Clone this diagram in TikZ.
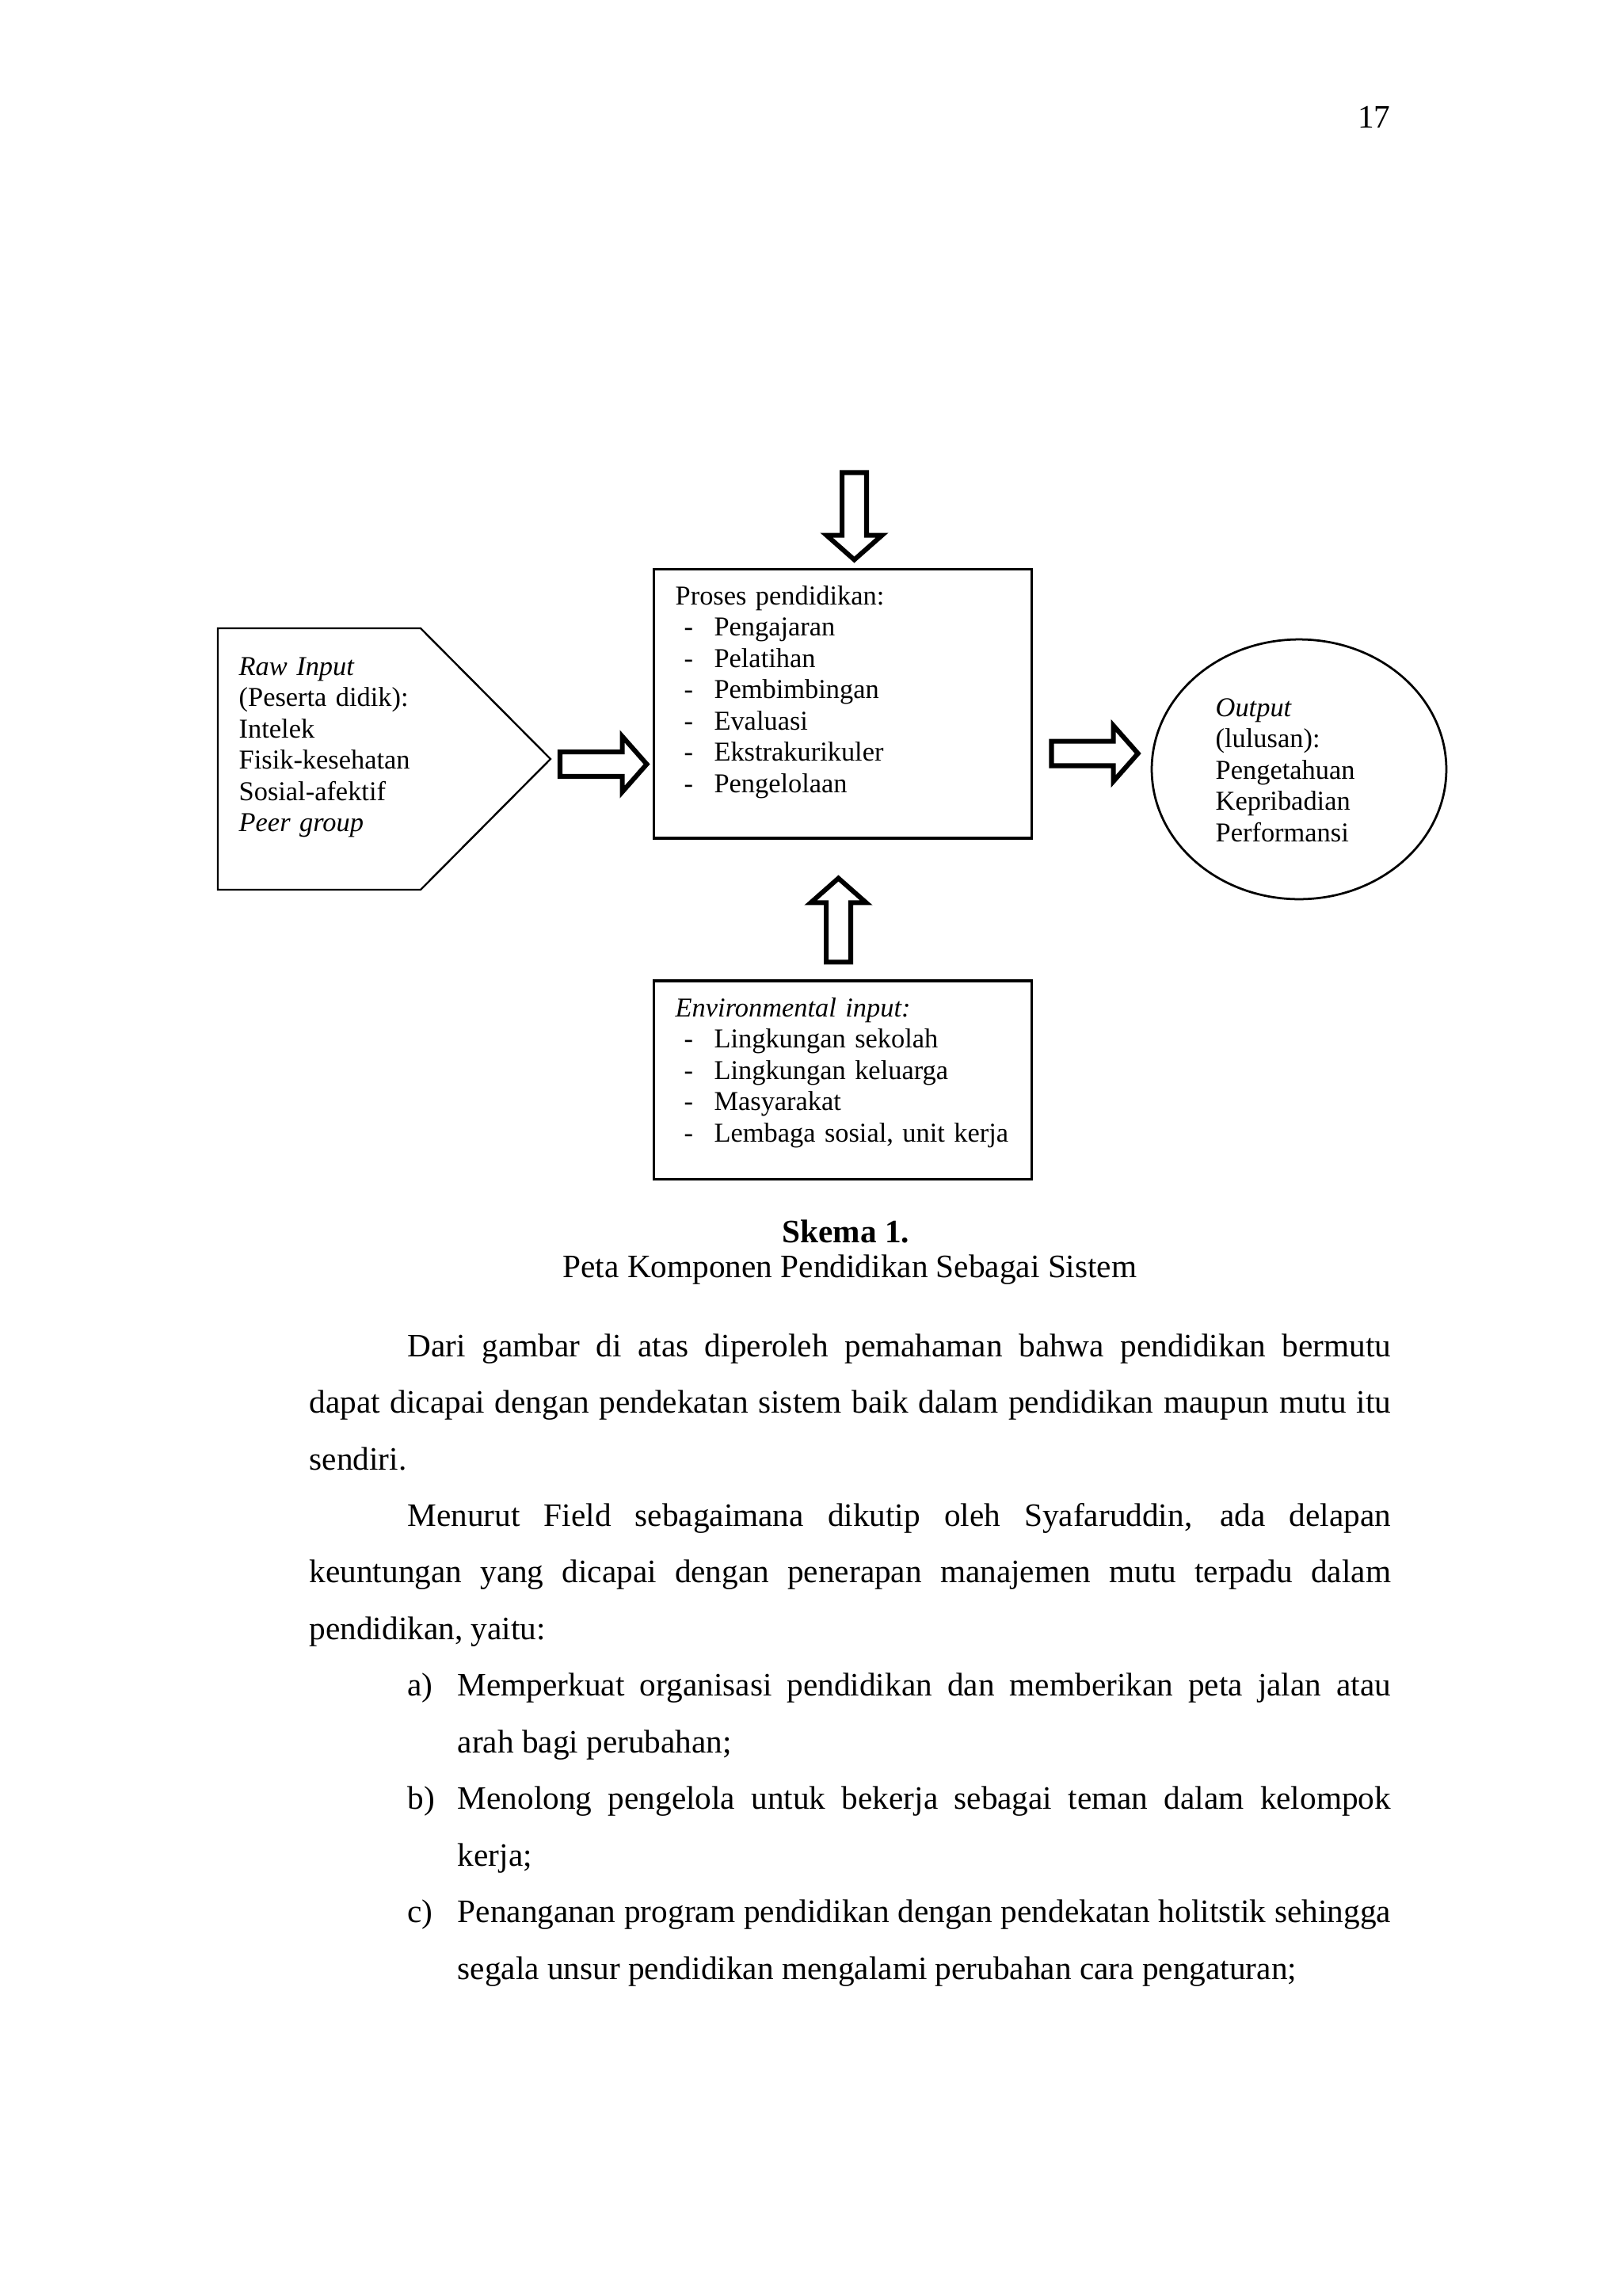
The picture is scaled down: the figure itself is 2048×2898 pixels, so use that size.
\documentclass[tikz,border=0pt]{standalone}
\usepackage{fontspec}
\setmainfont{Liberation Serif}
\usetikzlibrary{calc,shapes.geometric}
\tikzset{
  kotak/.style={draw, line width=0.9pt, minimum width=138.9pt, inner sep=0pt},
  teksdiagram/.style={font=\fontsize{10}{11.5}\selectfont, align=left, anchor=base west, inner sep=0pt, text width=130pt},
  panah/.style={draw, line width=1.75pt, fill=white},
  teksbadan/.style={font=\fontsize{12}{20.78}\selectfont, inner sep=0pt}
}
\newcommand\butir[1]{\hspace*{3.2pt}\makebox[11pt][l]{-}#1}
\newcommand\panahblok[2]{%
  \coordinate (hb) at ($(#2)!9pt!(#1)$);
  \draw[panah] ($(#1)!4.5pt!90:(#2)$) -- ($(hb)!4.5pt!90:(#2)$) -- ($(hb)!10.2pt!90:(#2)$) -- (#2)
    -- ($(hb)!10.2pt!-90:(#2)$) -- ($(hb)!4.5pt!-90:(#2)$) -- ($(#1)!4.5pt!-90:(#2)$) -- cycle;}
\newcommand\poin[1]{\hspace*{36pt}\makebox[18.4pt][l]{#1}}
\begin{document}
\begin{tikzpicture}[x=0.29067pt, y=-0.29067pt]
  \fill[white] (0,0) rectangle (2048,2898);
  \useasboundingbox (0,0) rectangle (2048,2898);
  \node[teksbadan, anchor=base east] (halaman) at (1756,161) {17};
  \draw[line width=0.7pt] (275,793) -- (531,793) -- (695,958) -- (531,1123) -- (275,1123) -- cycle;
  \coordinate (rawujung) at (695,958);
  \node[teksdiagram] (raw) at (301,852) {\textit{Raw Input}\\(Peserta didik):\\Intelek\\Fisik-kesehatan\\Sosial-afektif\\\textit{Peer group}};
  \node[kotak, minimum height=98.8pt] (proses) at (1064,888) {};
  \node[teksdiagram] (prosesteks) at (852,763) {Proses pendidikan:\\\butir{Pengajaran}\\\butir{Pelatihan}\\\butir{Pembimbingan}\\\butir{Evaluasi}\\\butir{Ekstrakurikuler}\\\butir{Pengelolaan}};
  \node[kotak, minimum height=72.7pt] (env) at (1064,1363) {};
  \node[teksdiagram] (envteks) at (852,1283) {\textit{Environmental input:}\\\butir{Lingkungan sekolah}\\\butir{Lingkungan keluarga}\\\butir{Masyarakat}\\\butir{Lembaga sosial, unit kerja}};
  \node[draw, ellipse, line width=0.8pt, minimum width=108.1pt, minimum height=95.3pt, inner sep=0pt] (keluaran) at (1640,971) {};
  \node[teksdiagram, text width=90pt] (keluaranteks) at (1534,904) {\textit{Output}\\(lulusan):\\Pengetahuan\\Kepribadian\\Performansi};
  \coordinate (p1a) at ($(rawujung)+(12,6.5)$);
  \coordinate (p1b) at ($(proses.west |- p1a)+(-7,0)$);
  \coordinate (p2a) at ($(proses.east)+(23,63)$);
  \coordinate (p2b) at ($(keluaran.west |- p2a)+(-16,0)$);
  \coordinate (p3a) at ($(proses.north)+(14.5,-120)$);
  \coordinate (p3b) at ($(proses.north)+(14.5,-10)$);
  \coordinate (p4a) at ($(env.north)+(-5.5,-22)$);
  \coordinate (p4b) at ($(proses.south)+(-5.5,49)$);
  \panahblok{p1a}{p1b}
  \panahblok{p2a}{p2b}
  \panahblok{p3a}{p3b}
  \panahblok{p4a}{p4b}
  \node[teksbadan, anchor=base, font=\fontsize{12}{14}\selectfont\bfseries] (judul) at (1068,1568) {Skema 1.};
  \node[teksbadan, anchor=base] (subjudul) at (1073,1612) {Peta Komponen Pendidikan Sebagai Sistem};
  \node[teksbadan, anchor=base west, text width=396.85pt, align=justify] (isi) at (390,1712) {\parindent=0pt\hyphenpenalty=10000\exhyphenpenalty=10000
    \hspace*{36pt}Dari gambar di atas diperoleh pemahaman bahwa pendidikan bermutu\linebreak
    dapat dicapai dengan pendekatan sistem baik dalam pendidikan maupun mutu itu\linebreak
    sendiri.\par
    \hspace*{36pt}Menurut Field sebagaimana dikutip oleh Syafaruddin, ada delapan\linebreak
    keuntungan yang dicapai dengan penerapan manajemen mutu terpadu dalam\linebreak
    pendidikan, yaitu:\par
    {\hangindent=54.4pt\hangafter=1 \poin{a)}Memperkuat organisasi pendidikan dan memberikan peta jalan atau\linebreak
    arah bagi perubahan;\par}
    {\hangindent=54.4pt\hangafter=1 \poin{b)}Menolong pengelola untuk bekerja sebagai teman dalam kelompok\linebreak
    kerja;\par}
    {\hangindent=54.4pt\hangafter=1 \poin{c)}Penanganan program pendidikan dengan pendekatan holitstik sehingga\linebreak
    segala unsur pendidikan mengalami perubahan cara pengaturan;\par}};
\end{tikzpicture}
\end{document}
